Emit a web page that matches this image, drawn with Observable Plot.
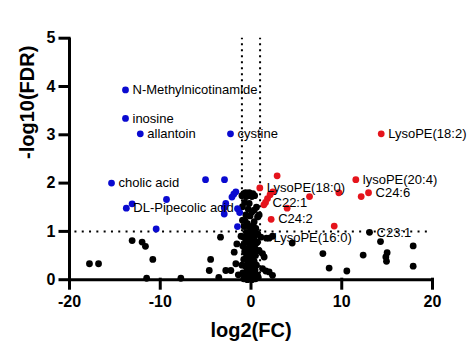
<!DOCTYPE html>
<html>
<head>
<meta charset="utf-8">
<script src="https://cdn.jsdelivr.net/npm/d3@7"></script>
<script src="https://cdn.jsdelivr.net/npm/@observablehq/plot@0.6"></script>
<style>
  html, body { margin: 0; padding: 0; background: #ffffff; }
  #chart { width: 474px; height: 353px; }
</style>
</head>
<body>
<div id="chart"></div>
<script>
// ---- Data (log2 fold change, -log10 FDR) ----
const xTicks = [-20, -10, 0, 10, 20];
const yTicks = [0, 1, 2, 3, 4, 5];
const fcCutoffs = [-1, 1];
const fdrCutoff = 1;

// Labeled down-regulated (blue)
const blueNames = ["N-Methylnicotinamide", "inosine", "allantoin", "cystine", "cholic acid", "DL-Pipecolic acid"];
const blueNamedFC = [-13.83, -13.83, -12.2, -2.26, -15.37, -13.74];
const blueNamedFDR = [3.93, 3.34, 3.02, 3.02, 2.0, 1.48];
// Unlabeled down-regulated (blue)
const blueOther = [
  [-13.1, 1.57], [-9.31, 1.66], [-10.45, 1.05], [-5.01, 2.07], [-2.92, 2.07],
  [-1.67, 1.82], [-1.9, 1.77], [-2.1, 1.71], [-2.78, 1.58], [-2.95, 1.49],
  [-2.95, 1.36], [-1.49, 1.47], [-1.25, 1.39], [-1.49, 1.1]
];

// Labeled up-regulated (red)
const redNames = ["LysoPE(18:2)", "lysoPE(20:4)", "C24:6", "LysoPE(18:0)", "C22:1", "C24:2"];
const redNamedFC = [14.35, 11.55, 12.95, 0.97, 1.6, 2.22];
const redNamedFDR = [3.02, 2.07, 1.8, 1.9, 1.6, 1.25];
// Unlabeled up-regulated (red)
const redOther = [
  [2.88, 2.15], [9.68, 1.8], [12.14, 1.72], [6.45, 1.72], [1.82, 1.68],
  [2.1, 1.76], [2.4, 1.82], [3.98, 1.48], [9.17, 1.11], [1.42, 1.55]
];

// Labeled non-significant (black)
const blackNames = ["LysoPE(16:0)", "C23:1"];
const blackNamedFC = [1.7, 13.06];
const blackNamedFDR = [0.86, 0.98];
// Unlabeled non-significant (black)
const blackOther = [
  // central blob near FDR 1.75
  [-1.0, 1.74], [-0.8, 1.78], [-0.6, 1.8], [-0.4, 1.76], [-0.2, 1.8], [0.0, 1.74],
  [0.2, 1.78], [0.4, 1.74], [-0.5, 1.72], [0.1, 1.72],
  // central column, upper
  [-0.2, 1.58], [-0.94, 1.51], [0.35, 1.44], [-0.57, 1.34], [-0.1, 1.32], [-0.94, 1.23],
  [-0.39, 1.16], [0.35, 1.2], [0.72, 1.3], [0.9, 1.34], [-0.2, 1.1], [-0.75, 1.1],
  [0.53, 1.06], [0.1, 1.4], [-0.3, 1.46], [0.6, 1.5], [-0.7, 1.6],
  // central column, lower
  [-0.5, 0.98], [0.2, 0.96], [-0.1, 0.92], [0.4, 0.9], [-0.8, 0.88], [-0.3, 0.85],
  [0.0, 0.82], [0.3, 0.8], [-0.6, 0.78], [0.6, 0.76], [-0.2, 0.74], [0.1, 0.7],
  [-0.9, 0.7], [0.4, 0.66], [-0.4, 0.64], [0.0, 0.6], [-0.7, 0.58], [0.25, 0.56],
  [-0.2, 0.52], [0.5, 0.5], [-0.5, 0.48], [0.1, 0.45], [-0.1, 0.4], [-0.8, 0.42],
  [0.35, 0.38], [-0.35, 0.35], [0.0, 0.32], [0.6, 0.3], [-0.6, 0.28], [0.2, 0.26],
  [-0.15, 0.22], [0.45, 0.2], [-0.45, 0.18], [0.05, 0.15], [-0.9, 0.14], [0.3, 0.12],
  [-0.3, 0.1], [0.7, 0.1], [0.0, 0.08], [-0.6, 0.06], [0.2, 0.04], [-0.2, 0.03],
  [0.5, 0.02], [-0.8, 0.02], [0.1, 0.0], [-0.4, 0.0], [0.8, 0.05], [-1.0, 0.3],
  [0.9, 0.6], [-1.1, 0.9], [0.75, 0.95], [-0.25, 0.95], [0.15, 0.88], [0.55, 0.62],
  [-0.55, 0.12], [0.3, 0.68], [-0.05, 1.02], [0.25, 1.12], [-0.65, 1.22],
  // just right of the column
  [0.72, 0.78], [1.08, 0.88], [2.37, 0.9], [1.27, 0.54], [1.45, 0.47], [1.27, 0.23],
  [1.63, 0.18], [2.0, 0.16], [2.37, 0.09], [2.0, 0.86], [4.54, 0.76],
  // just left of the column
  [-1.85, 0.57], [-1.67, 0.33], [-2.78, 0.19], [-2.22, 0.19], [-3.36, 0.88],
  [-4.45, 0.42], [-4.6, 0.19], [-3.55, 0.05], [-1.56, 0.74], [-1.4, 0.1],
  // far right
  [14.27, 0.79], [17.87, 0.7], [15.0, 0.56], [14.86, 0.47], [14.93, 0.38],
  [12.36, 0.51], [7.92, 0.54], [17.87, 0.28], [8.61, 0.24], [10.56, 0.18],
  // far left
  [-13.1, 0.81], [-12.0, 0.78], [-11.63, 0.69], [-10.82, 0.42], [-17.8, 0.33],
  [-16.8, 0.33], [-11.5, 0.03], [-7.73, 0.03]
];

// ---- Build tables for Plot ----
const named = (names, fc, fdr) => names.map((n, i) => ({name: n, fc: fc[i], fdr: fdr[i]}));
const pts = arr => arr.map(([fc, fdr]) => ({fc, fdr}));

const blueNamed = named(blueNames, blueNamedFC, blueNamedFDR);
const redNamed = named(redNames, redNamedFC, redNamedFDR);
const blackNamed = named(blackNames, blackNamedFC, blackNamedFDR);
const blackAll = pts(blackOther).concat(blackNamed);
const blueAll = pts(blueOther).concat(blueNamed);
const redAll = pts(redOther).concat(redNamed);
const allNamed = blueNamed.concat(redNamed, blackNamed);

const BLUE = "#0a0ad0";
const RED = "#e5141c";
const R = 3.4;

const chart = Plot.plot({
  width: 474,
  height: 353,
  marginLeft: 69,
  marginRight: 42,
  marginTop: 37.7,
  marginBottom: 73.8,
  style: {fontFamily: "'Liberation Sans', Arial, sans-serif", background: "#ffffff", color: "#000"},
  x: {domain: [-20, 20]},
  y: {domain: [0, 5]},
  marks: [
    // threshold lines
    Plot.ruleX(fcCutoffs, {y1: 0, y2: 5, stroke: "#000", strokeWidth: 2, strokeDasharray: "2,4"}),
    Plot.ruleY([fdrCutoff], {x1: -19.4, x2: 19.6, stroke: "#000", strokeWidth: 2, strokeDasharray: "2,5.3"}),
    // points
    Plot.dot(blackAll, {x: "fc", y: "fdr", r: R, fill: "#000", stroke: null}),
    Plot.dot(blueAll, {x: "fc", y: "fdr", r: R, fill: BLUE, stroke: null}),
    Plot.dot(redAll, {x: "fc", y: "fdr", r: R, fill: RED, stroke: null}),
    // point labels
    Plot.text(allNamed, {x: "fc", y: "fdr", text: "name", dx: 7, textAnchor: "start", fontSize: 13, fill: "#000"}),
    // axes
    Plot.axisX({ticks: xTicks, tickSize: 9, tickPadding: 7, fontSize: 16, strokeWidth: 3, label: null, tickFormat: d => String(d)}),
    Plot.axisY({ticks: yTicks, tickSize: 9, tickPadding: 5, fontSize: 16, strokeWidth: 3, label: null, tickFormat: d => String(d)}),
    Plot.ruleY([0], {x1: -20, x2: 20, stroke: "#000", strokeWidth: 3}),
    Plot.ruleX([-20], {y1: 0, y2: 5, stroke: "#000", strokeWidth: 3}),
    // axis titles
    Plot.text(["log2(FC)"], {frameAnchor: "bottom", dy: 51, lineAnchor: "middle", fontSize: 20, fontWeight: "bold", fill: "#000"}),
    Plot.text(["-log10(FDR)"], {frameAnchor: "left", dx: -42, rotate: -90, lineAnchor: "middle", fontSize: 20, fontWeight: "bold", fill: "#000"})
  ]
});

chart.querySelectorAll('[aria-label$="tick label"]').forEach(g => {
  g.setAttribute("font-weight", "bold");
});
chart.querySelectorAll('[aria-label$="tick"] path').forEach(p => p.setAttribute("stroke-linecap", "square"));
document.getElementById("chart").appendChild(chart);
</script>
</body>
</html>
